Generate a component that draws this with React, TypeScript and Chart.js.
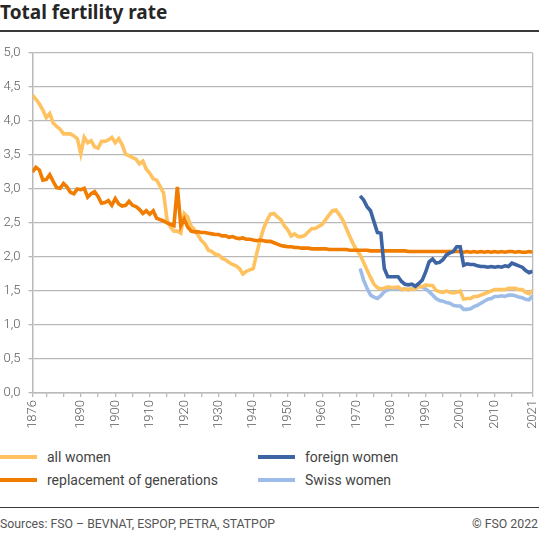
import React, { useRef, useEffect } from 'react';
import { Chart, registerables } from 'chart.js';

Chart.register(...registerables);

// years of the series (annual values)
const firstYear = 1876;
const nationalityFirstYear = 1971;

const allWomen = [
  4.38, 4.32, 4.25, 4.16,
  4.05, 4.11, 3.97, 3.92, 3.88, 3.81, 3.81, 3.81, 3.78, 3.74,
  3.52, 3.76, 3.68, 3.71, 3.62, 3.60, 3.70, 3.70, 3.72, 3.76,
  3.68, 3.74, 3.65, 3.51, 3.49, 3.46, 3.44, 3.37, 3.41, 3.29,
  3.23, 3.15, 3.13, 3.04, 2.94, 2.55, 2.44, 2.38, 2.38, 2.35,
  2.64, 2.59, 2.45, 2.40, 2.32, 2.24, 2.19, 2.10, 2.08, 2.04,
  2.03, 1.98, 1.96, 1.92, 1.89, 1.87, 1.83, 1.75, 1.79, 1.81,
  1.83, 2.05, 2.25, 2.42, 2.54, 2.63, 2.64, 2.59, 2.55, 2.46,
  2.40, 2.31, 2.34, 2.30, 2.30, 2.32, 2.37, 2.42, 2.42, 2.45,
  2.48, 2.55, 2.62, 2.68, 2.69, 2.62, 2.54, 2.42, 2.30, 2.19,
  2.10, 2.03, 1.92, 1.81, 1.70, 1.60, 1.55, 1.53, 1.54, 1.56,
  1.55, 1.55, 1.56, 1.52, 1.53, 1.52, 1.53, 1.53, 1.57, 1.56,
  1.59, 1.58, 1.58, 1.51, 1.49, 1.48, 1.50, 1.48, 1.47, 1.48,
  1.50, 1.38, 1.39, 1.39, 1.42, 1.42, 1.44, 1.46, 1.48, 1.50,
  1.52, 1.52, 1.52, 1.52, 1.54, 1.54, 1.54, 1.52, 1.52, 1.48,
  1.46, 1.51,
];

const replacement = [
  3.25, 3.32, 3.28, 3.13,
  3.14, 3.21, 3.11, 3.02, 3.01, 3.08, 3.03, 2.95, 2.93, 3.00,
  2.99, 3.01, 2.88, 2.93, 2.96, 2.89, 2.79, 2.80, 2.83, 2.76,
  2.86, 2.78, 2.75, 2.76, 2.82, 2.76, 2.74, 2.70, 2.64, 2.68,
  2.63, 2.68, 2.57, 2.55, 2.53, 2.50, 2.48, 2.46, 3.03, 2.46,
  2.56, 2.44, 2.38, 2.37, 2.37, 2.36, 2.36, 2.35, 2.34, 2.33,
  2.33, 2.31, 2.31, 2.29, 2.30, 2.28, 2.27, 2.28, 2.26, 2.26,
  2.25, 2.24, 2.25, 2.24, 2.23, 2.23, 2.21, 2.19, 2.17, 2.16,
  2.15, 2.15, 2.14, 2.14, 2.13, 2.13, 2.13, 2.12, 2.12, 2.12,
  2.12, 2.12, 2.11, 2.11, 2.11, 2.11, 2.11, 2.11, 2.10, 2.10,
  2.10, 2.10, 2.10, 2.10, 2.09, 2.09, 2.09, 2.09, 2.09, 2.09,
  2.09, 2.09, 2.09, 2.09, 2.09, 2.08, 2.08, 2.08, 2.08, 2.08,
  2.08, 2.08, 2.08, 2.08, 2.08, 2.08, 2.08, 2.08, 2.08, 2.08,
  2.08, 2.07, 2.08, 2.07, 2.08, 2.07, 2.08, 2.07, 2.08, 2.07,
  2.08, 2.07, 2.08, 2.07, 2.08, 2.08, 2.07, 2.08, 2.07, 2.07,
  2.08, 2.07,
];

const foreignWomen = [
  2.90, 2.84, 2.74, 2.68, 2.52, 2.36, 2.35, 1.83, 1.71,
  1.71, 1.71, 1.71, 1.64, 1.60, 1.59, 1.60, 1.57, 1.61, 1.66,
  1.78, 1.93, 1.97, 1.91, 1.92, 1.96, 2.03, 2.06, 2.08, 2.15,
  2.15, 1.88, 1.90, 1.89, 1.89, 1.87, 1.86, 1.86, 1.85, 1.86,
  1.85, 1.86, 1.85, 1.87, 1.86, 1.91, 1.89, 1.87, 1.85, 1.80,
  1.77, 1.79,
];

const swissWomen = [
  1.83, 1.66, 1.54, 1.44, 1.41, 1.39, 1.43, 1.49, 1.52,
  1.53, 1.53, 1.53, 1.52, 1.53, 1.52, 1.53, 1.54, 1.57, 1.56,
  1.53, 1.49, 1.44, 1.39, 1.36, 1.35, 1.33, 1.32, 1.29, 1.28,
  1.28, 1.23, 1.23, 1.24, 1.27, 1.29, 1.32, 1.35, 1.38, 1.39,
  1.42, 1.42, 1.43, 1.42, 1.44, 1.44, 1.43, 1.41, 1.40, 1.38,
  1.37, 1.43,
];

const xLabelYears = [1876, 1890, 1900, 1910, 1920, 1930, 1940, 1950, 1960, 1970, 1980, 1990, 2000, 2010, 2021];
const xMinorYears = [1880, 1885, 1895, 1905, 1915, 1925, 1935, 1945, 1955, 1965, 1975, 1985, 1995, 2005, 2015];
const yTickValues = [0, 0.5, 1, 1.5, 2, 2.5, 3, 3.5, 4, 4.5, 5];

const legendItems = [
  { label: 'all women', color: '#ffc261' },
  { label: 'replacement of generations', color: '#f07d00' },
  { label: 'foreign women', color: '#3d64a3' },
  { label: 'Swiss women', color: '#9dbde8' },
];

const gridColor = '#b9b9b9';
const textColor = '#5a5a5a';
const fontFamily = 'Roboto, "Noto Sans", sans-serif';

function toPoints(values: number[], start: number) {
  return values.map((v, i) => ({ x: start + i, y: v }));
}

function FertilityChart() {
  const canvasRef = useRef<HTMLCanvasElement | null>(null);
  const chartRef = useRef<Chart | null>(null);

  useEffect(() => {
    if (!canvasRef.current) return;
    if (chartRef.current) chartRef.current.destroy();

    const allTicks = [...xLabelYears, ...xMinorYears].sort((a, b) => a - b);

    const line = (label: string, data: any[], color: string) => ({
      label,
      data,
      borderColor: color,
      backgroundColor: color,
      borderWidth: 3.6,
      pointRadius: 0,
      tension: 0,
      fill: false,
    });

    chartRef.current = new Chart(canvasRef.current, {
      type: 'line',
      data: {
        datasets: [
          line('foreign women', toPoints(foreignWomen, nationalityFirstYear), legendItems[2].color),
          line('replacement of generations', toPoints(replacement, firstYear), legendItems[1].color),
          line('all women', toPoints(allWomen, firstYear), legendItems[0].color),
          line('Swiss women', toPoints(swissWomen, nationalityFirstYear), legendItems[3].color),
        ],
      },
      options: {
        animation: false,
        responsive: true,
        maintainAspectRatio: false,
        layout: { padding: { top: 17, right: 6.4, left: 0, bottom: 0 } },
        plugins: {
          legend: { display: false },
          tooltip: { enabled: false },
        },
        scales: {
          x: {
            type: 'linear',
            min: 1876,
            max: 2021,
            afterBuildTicks: (scale: any) => {
              scale.ticks = allTicks.map((v) => ({ value: v }));
            },
            afterFit: (scale: any) => {
              scale.height = 47;
              scale.paddingLeft = 0;
              scale.paddingRight = 0;
            },
            ticks: {
              autoSkip: false,
              minRotation: 90,
              maxRotation: 90,
              padding: 3,
              color: textColor,
              font: { family: fontFamily, size: 13, weight: '300' },
              callback: (value: any) => (xLabelYears.includes(value) ? String(value) : ''),
            },
            grid: {
              drawOnChartArea: true,
              color: (ctx: any) => (ctx.tick && ctx.tick.value === 2021 ? gridColor : 'rgba(0,0,0,0)'),
              tickColor: gridColor,
              tickLength: 4,
              lineWidth: 1.3,
            },
            border: { display: true, color: gridColor, width: 1.5 },
          },
          y: {
            min: 0,
            max: 5,
            afterBuildTicks: (scale: any) => {
              scale.ticks = yTickValues.map((v) => ({ value: v }));
            },
            afterFit: (scale: any) => {
              scale.width = 32.5;
            },
            ticks: {
              padding: 8,
              color: textColor,
              font: { family: fontFamily, size: 13, weight: '300' },
              callback: (value: any) => Number(value).toFixed(1).replace('.', ','),
            },
            grid: {
              color: gridColor,
              lineWidth: 1.3,
              tickLength: 4,
            },
            border: { display: true, color: gridColor, width: 1.5 },
          },
        },
      },
    });

    return () => {
      if (chartRef.current) {
        chartRef.current.destroy();
        chartRef.current = null;
      }
    };
  }, []);

  return (
    <div style={{ position: 'absolute', left: 0, top: 36, width: 539, height: 404 }}>
      <canvas ref={canvasRef}></canvas>
    </div>
  );
}

export default function App() {
  return (
    <div
      style={{
        position: 'absolute',
        left: 0,
        top: 0,
        width: 539,
        height: 533,
        background: '#fff',
        fontFamily,
        overflow: 'hidden',
      }}
    >
      <div
        style={{
          position: 'absolute',
          left: 0,
          top: 0,
          fontFamily: '"Noto Sans", Roboto, sans-serif',
          fontSize: 19,
          lineHeight: '24px',
          fontWeight: 700,
          color: '#262626',
          whiteSpace: 'nowrap',
        }}
      >
        Total fertility rate
      </div>
      <div style={{ position: 'absolute', left: 0, top: 30, width: 539, height: 1.5, background: '#3a3a3a' }} />

      <FertilityChart />

      {legendItems.map((item, i) => {
        const col = i < 2 ? 0 : 1;
        const row = i % 2;
        const left = col === 0 ? 0 : 258;
        const top = 457 + row * 23;
        return (
          <div key={item.label}>
            <div
              style={{
                position: 'absolute',
                left,
                top: top - 2,
                width: 37,
                height: 4,
                background: item.color,
              }}
            />
            <div
              style={{
                position: 'absolute',
                left: left + 47,
                top: top - 10,
                fontSize: 14,
                lineHeight: '20px',
                color: '#444',
                whiteSpace: 'nowrap',
              }}
            >
              {item.label}
            </div>
          </div>
        );
      })}

      <div style={{ position: 'absolute', left: 0, top: 506.5, width: 539, height: 1.5, background: '#3a3a3a' }} />
      <div
        style={{
          position: 'absolute',
          left: 0,
          top: 516,
          fontSize: 12.3,
          lineHeight: '16px',
          color: '#555',
          whiteSpace: 'nowrap',
        }}
      >
        Sources: FSO – BEVNAT, ESPOP, PETRA, STATPOP
      </div>
      <div
        style={{
          position: 'absolute',
          right: 1,
          top: 516,
          fontSize: 12.3,
          lineHeight: '16px',
          color: '#555',
          whiteSpace: 'nowrap',
        }}
      >
        © FSO 2022
      </div>
    </div>
  );
}
